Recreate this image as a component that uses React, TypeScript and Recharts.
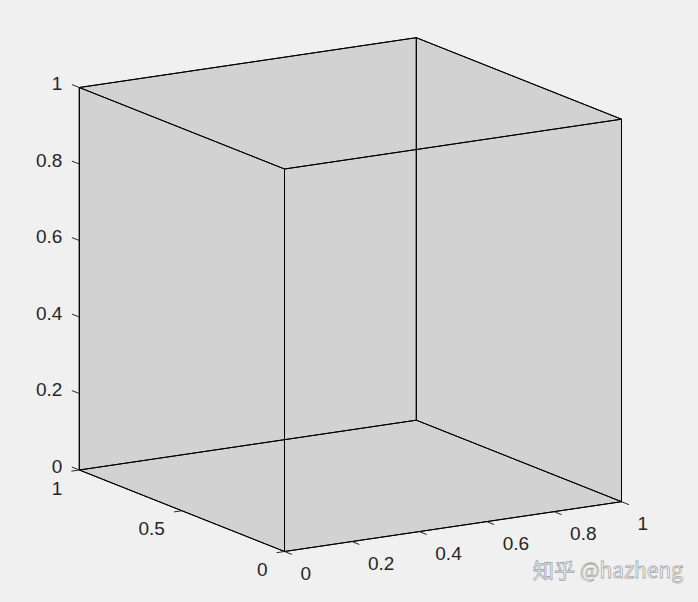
import React from 'react';
import { ScatterChart, Scatter, XAxis, YAxis } from 'recharts';

const W = 698;
const H = 602;

// corners of the unit box, [x, y, z]
const cubeCorners: [number, number, number][] = [
  [0, 0, 0], [1, 0, 0], [1, 1, 0], [0, 1, 0],
  [0, 0, 1], [1, 0, 1], [1, 1, 1], [0, 1, 1],
];
// faces as corner indices
const cubeFaces: number[][] = [
  [0, 1, 2, 3], [4, 5, 6, 7], [0, 1, 5, 4],
  [1, 2, 6, 5], [2, 3, 7, 6], [3, 0, 4, 7],
];

const xTicks = [0, 0.2, 0.4, 0.6, 0.8, 1];
const xTickLabels = ['0', '0.2', '0.4', '0.6', '0.8', '1'];
const yTicks = [0, 0.5, 1];
const yTickLabels = ['0', '0.5', '1'];
const zTicks = [0, 0.2, 0.4, 0.6, 0.8, 1];
const zTickLabels = ['0', '0.2', '0.4', '0.6', '0.8', '1'];

// 3D view: screen position of the origin and of the three unit vectors
const ORIGIN = [284.5, 551.5];
const EX = [337, -49.8];
const EY = [-205.2, -81.5];
const EZ = [0, -382.5];

const project = (x: number, y: number, z: number) => ({
  px: ORIGIN[0] + x * EX[0] + y * EY[0] + z * EZ[0],
  py: ORIGIN[1] + x * EX[1] + y * EY[1] + z * EZ[1],
});

const unit = (v: number[], len: number) => {
  const n = Math.hypot(v[0], v[1]);
  return [(v[0] / n) * len, (v[1] / n) * len];
};

const AXIS_COLOR = '#262626';
const FONT = '"Liberation Sans", Arial, Helvetica, sans-serif';
const TICK_LEN = 8;

const faceData = cubeFaces.map((f) => f.map((i) => project(...cubeCorners[i])));
const xTickData = xTicks.map((v, i) => ({ ...project(v, 0, 0), label: xTickLabels[i] }));
const yTickData = yTicks.map((v, i) => ({ ...project(0, v, 0), label: yTickLabels[i] }));
const zTickData = zTicks.map((v, i) => ({ ...project(0, 1, v), label: zTickLabels[i] }));

const noDot = () => <g />;

const renderFace = (props: any) => {
  const pts = (props.points || []).map((p: any) => `${p.x},${p.y}`).join(' ');
  return (
    <polygon
      points={pts}
      fill="#000"
      fillOpacity={0.062}
      stroke="#000"
      strokeWidth={1}
      strokeLinejoin="round"
    />
  );
};

const makeTick =
  (dir: number[], anchor: 'start' | 'end', dx: number, dy: number) => (props: any) => {
    const { cx, cy, payload } = props;
    return (
      <g>
        <line x1={cx} y1={cy} x2={cx + dir[0]} y2={cy + dir[1]} stroke={AXIS_COLOR} strokeWidth={1} />
        <text
          x={cx + dx}
          y={cy + dy}
          dy="0.35em"
          textAnchor={anchor}
          fontSize={19}
          fontFamily={FONT}
          fill={AXIS_COLOR}
        >
          {payload.label}
        </text>
      </g>
    );
  };

const xTickShape = makeTick(unit([-EY[0], -EY[1]], TICK_LEN), 'start', 16, 21.5);
const yTickShape = makeTick(unit([-EX[0], -EX[1]], TICK_LEN), 'end', -17, 18);
const zTickShape = makeTick(unit(EY, TICK_LEN), 'end', -17, -4);

export default function App() {
  return (
    <div style={{ position: 'absolute', left: 0, top: 0, width: W, height: H, background: '#f0f0f0' }}>
      <ScatterChart width={W} height={H} margin={{ top: 0, right: 0, bottom: 0, left: 0 }}>
        <XAxis type="number" dataKey="px" domain={[0, W]} allowDataOverflow hide />
        <YAxis type="number" dataKey="py" domain={[0, H]} allowDataOverflow reversed hide />
        {faceData.map((face, i) => (
          <Scatter
            key={`face-${i}`}
            data={face}
            line={renderFace}
            lineType="joint"
            shape={noDot}
            isAnimationActive={false}
          />
        ))}
        <Scatter data={xTickData} shape={xTickShape} isAnimationActive={false} />
        <Scatter data={yTickData} shape={yTickShape} isAnimationActive={false} />
        <Scatter data={zTickData} shape={zTickShape} isAnimationActive={false} />
      </ScatterChart>
      <div
        style={{
          position: 'absolute',
          left: 533,
          top: 556,
          fontSize: 21,
          fontFamily: '"Noto Sans CJK SC", "Liberation Sans", sans-serif',
          color: '#ffffff',
          WebkitTextStroke: '0.8px #a8a8a8',
          whiteSpace: 'nowrap',
          lineHeight: '26px',
        }}
      >
        知乎 @hazheng
      </div>
    </div>
  );
}
